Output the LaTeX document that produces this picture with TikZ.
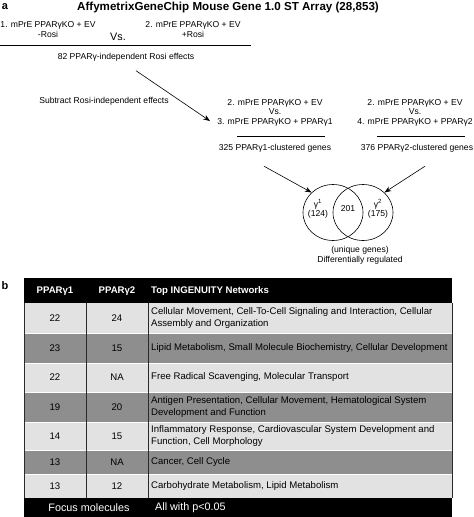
\documentclass[tikz,border=0pt]{standalone}
\usepackage{fontspec}
\setmainfont{Liberation Sans}
\usetikzlibrary{arrows.meta,positioning,shapes.geometric}
\definecolor{rowlite}{HTML}{E2E2E2}
\definecolor{rowdark}{HTML}{8E8E8E}
\definecolor{rule}{HTML}{2A2A2A}
\tikzset{
  ar/.style={-{Stealth[length=2.4mm,width=1.8mm]},semithick},
  lbl/.style={font=\fontsize{8.6}{9.6}\selectfont,inner sep=0pt,align=center},
  venn/.style={draw,semithick,ellipse,minimum width=60pt,minimum height=56pt,inner sep=0pt},
  cell/.style={font=\fontsize{9.6}{11.5}\selectfont,inner sep=0pt},
  net/.style={font=\fontsize{9.6}{11.5}\selectfont,inner sep=0pt,align=left,anchor=west},
  hdr/.style={font=\bfseries\fontsize{9.6}{11}\selectfont,text=white,inner sep=0pt},
  foot/.style={font=\fontsize{10.8}{12}\selectfont,text=white,inner sep=0pt}
}
\begin{document}
\begin{tikzpicture}[x=1pt,y=-1pt]
\useasboundingbox (0,0) rectangle (474,517);
% panel a
\node[font=\bfseries\fontsize{11}{12}\selectfont,inner sep=0pt] (pa) at (5,7) {a};
\node[font=\bfseries\fontsize{11.6}{13}\selectfont,inner sep=0pt] (title) at (228,7) {AffymetrixGeneChip Mouse Gene 1.0 ST Array (28,853)};
\node[lbl] (ev1) at (48,29.5) {1. mPrE PPARγKO + EV\\-Rosi};
\node[font=\fontsize{10.8}{12}\selectfont,inner sep=0pt] (vs0) at (118,37) {Vs.};
\node[lbl] (ev2) at (193,29.5) {2. mPrE PPARγKO + EV\\+Rosi};
\draw[thick] (0,45.5) -- (251,45.5);
\node[lbl] (rosi) at (126,57.5) {82 PPARγ-independent Rosi effects};
\node[lbl] (subtr) at (104,101) {Subtract Rosi-independent effects};
\coordinate (tipA) at (210,121);
\draw[ar] ([xshift=10pt,yshift=-9pt]rosi.south) -- (tipA);

\node[lbl] (cmp1) at (275,112.5) {2. mPrE PPARγKO + EV\\Vs.\\3. mPrE PPARγKO + PPARγ1};
\draw[semithick] (237,136) -- (325,136);
\node[lbl] (clu1) at (275,148) {325 PPARγ1-clustered genes};
\node[lbl] (cmp2) at (415,112.5) {2. mPrE PPARγKO + EV\\Vs.\\4. mPrE PPARγKO + PPARγ2};
\draw[semithick] (377,136) -- (465,136);
\node[lbl] (clu2) at (417,148) {376 PPARγ2-clustered genes};

\node[venn] (g1) at (333,212.5) {};
\node[venn] (g2) at (363,212.5) {};
\draw[ar] ([xshift=-11pt,yshift=-14pt]clu1.south) -- (g1.north west);
\draw[ar] ([xshift=8pt,yshift=-14pt]clu2.south) -- (g2.north east);
\node[lbl] (n1) at (318,209) {γ\textsuperscript{1}\\(124)};
\node[lbl] (n12) at (348,209) {201};
\node[lbl] (n2) at (378,209) {γ\textsuperscript{2}\\(175)};
\node[lbl] (uniq) at (360,255) {(unique genes)\\Differentially regulated};

% panel b
\node[font=\bfseries\fontsize{11}{12}\selectfont,inner sep=0pt] (pb) at (5,286) {b};
\fill[black] (24,278) rectangle (452,303);
\foreach \ya/\yb/\rc in {303/333/rowlite,333/363/rowdark,363/392/rowlite,392/422/rowdark,422/450/rowlite,450/474/rowdark,474/498/rowlite}
  \fill[\rc] (24,\ya) rectangle (452,\yb);
\foreach \yy in {333,363,392,422,450,474}
  \draw[white,thin] (24,\yy) -- (452,\yy);
\fill[black] (24,498) rectangle (452,517);
\draw[rule,semithick] (24,303) -- (24,498) (86,303) -- (86,498) (148,303) -- (148,498) (452,303) -- (452,498);
\node[hdr] (h1) at (55,291) {PPARγ1};
\node[hdr] (h2) at (117,291) {PPARγ2};
\node[hdr,anchor=west] (h3) at (151,291) {Top INGENUITY Networks};
\foreach \n/\ym/\va/\vb/\txt in {
  1/318/22/24/{Cellular Movement, Cell-To-Cell Signaling and Interaction, Cellular\\Assembly and Organization},
  2/348/23/15/{Lipid Metabolism, Small Molecule Biochemistry, Cellular Development},
  3/377.5/22/NA/{Free Radical Scavenging, Molecular Transport},
  4/407/19/20/{Antigen Presentation, Cellular Movement, Hematological System\\Development and Function},
  5/436/14/15/{Inflammatory Response, Cardiovascular System Development and\\Function, Cell Morphology},
  6/462/13/NA/{Cancer, Cell Cycle},
  7/486/13/12/{Carbohydrate Metabolism, Lipid Metabolism}}
{
  \node[cell] (ca\n) at (55,\ym) {\va};
  \node[cell] (cb\n) at (117,\ym) {\vb};
  \node[net] (cc\n) at (151,\ym) {\txt};
}
\node[foot] (foc) at (89,507.5) {Focus molecules};
\node[foot,anchor=west] (pval) at (155,507.5) {All with p<0.05};
\end{tikzpicture}
\end{document}
